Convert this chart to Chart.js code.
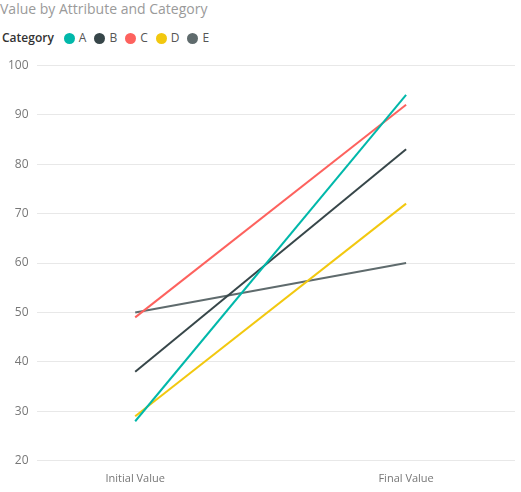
<!DOCTYPE html>
<html><head><meta charset="utf-8">
<script src="https://cdn.jsdelivr.net/npm/chart.js@4"></script>
<style>
html,body{margin:0;padding:0;background:#fff;font-family:'Segoe UI','Open Sans',sans-serif}
#t{position:absolute;left:0;top:0;font-size:14px;color:#9a9a9a;line-height:18px}
#lg{position:absolute;left:2px;top:30px;font-size:12px;color:#555;display:flex;align-items:center;line-height:16px}
#lg b{color:#333;font-weight:600;margin-right:10px}
#lg span.i{display:inline-flex;align-items:center;margin-right:8px}
#lg span.d{width:11px;height:11px;border-radius:50%;display:inline-block;margin-right:4px}
#w{position:absolute;left:0;top:50px;width:521px;height:442px}
</style>
</head><body>
<div id="t">Value by Attribute and Category</div>
<div id="lg"><b>Category</b></div>
<div id="w"><canvas id="c"></canvas></div>
<script>
const categories = ["Initial Value", "Final Value"];
const seriesNames = ["A", "B", "C", "D", "E"];
const seriesA = [28, 94];
const seriesB = [38, 83];
const seriesC = [49, 92];
const seriesD = [29, 72];
const seriesE = [50, 60];
const colors = ["#01B8AA", "#374649", "#FD625E", "#F2C80F", "#5F6B6D"];
const allValues = [seriesA, seriesB, seriesC, seriesD, seriesE];

const lg = document.getElementById('lg');
seriesNames.forEach((n, i) => {
  const s = document.createElement('span'); s.className = 'i';
  const d = document.createElement('span'); d.className = 'd'; d.style.background = colors[i];
  s.appendChild(d); s.appendChild(document.createTextNode(n)); lg.appendChild(s);
});

const datasets = seriesNames.map((n, i) => ({
  label: n,
  data: allValues[i].map((v, j) => ({x: j, y: v})),
  borderColor: colors[i], backgroundColor: colors[i],
  borderWidth: 2, pointRadius: 0, tension: 0
}));

new Chart(document.getElementById('c'), {
  type: 'line',
  data: {datasets},
  options: {
    responsive: true, maintainAspectRatio: false, animation: false,
    layout: {padding: {left: 0, right: 6, top: 4, bottom: 4}},
    plugins: {legend: {display: false}, tooltip: {enabled: false}},
    scales: {
      x: {type: 'linear', min: -0.364, max: 1.402,
        afterBuildTicks: ax => { ax.ticks = categories.map((_, i) => ({value: i})); },
        ticks: {callback: v => categories[v], color: '#777', font: {family: "'Segoe UI','Open Sans',sans-serif", size: 11}, maxRotation: 0},
        grid: {display: false}, border: {display: false}},
      y: {min: 20, max: 100,
        ticks: {stepSize: 10, color: '#777', padding: 8, font: {family: "'Segoe UI','Open Sans',sans-serif", size: 12}},
        grid: {color: '#e8e8e8', drawTicks: false}, border: {display: false}}
    }
  }
});
</script></body></html>
